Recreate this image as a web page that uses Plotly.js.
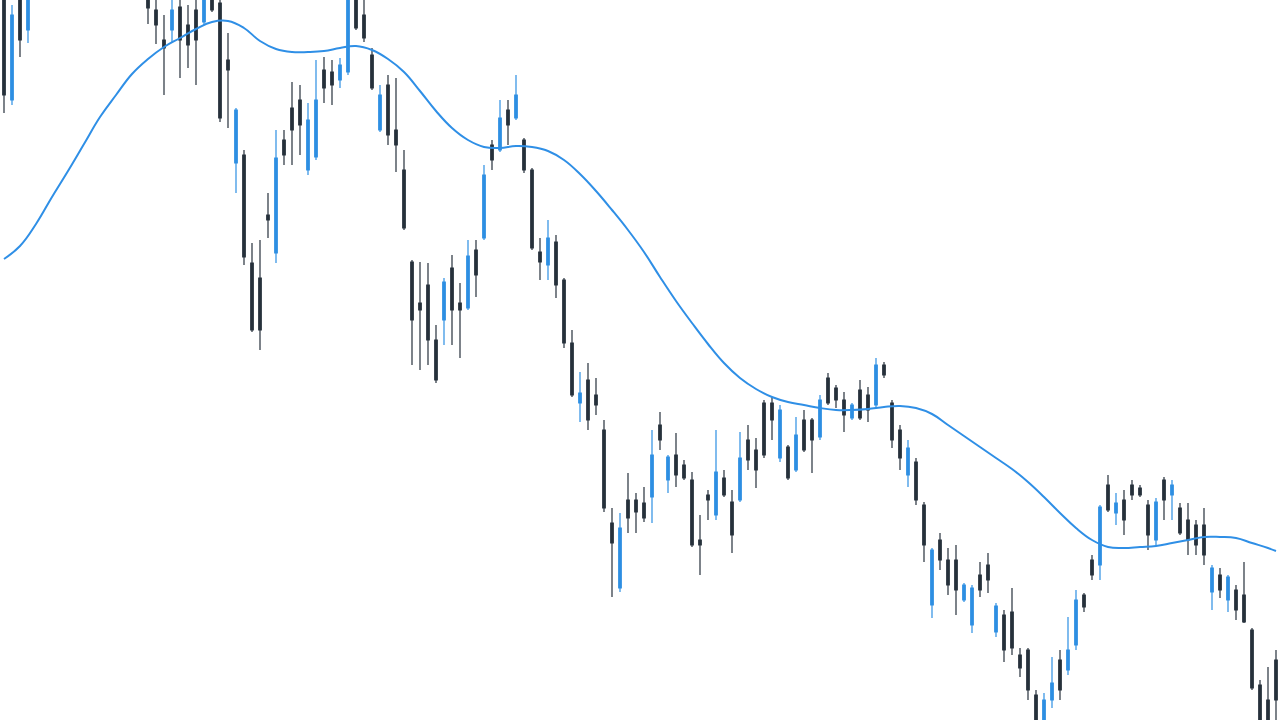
<!DOCTYPE html>
<html>
<head>
<meta charset="utf-8">
<script src="https://cdn.plot.ly/plotly-3.0.1.min.js"></script>
<style>html,body{margin:0;padding:0;background:#fff;}#chart{width:1280px;height:720px;}</style>
</head>
<body>
<div id="chart"></div>
<script>
// Session index (category positions)
const sessions = Array.from({length: 160}, (_, i) => i);

const openP = [176.0,162.0,173.0,169.0,173.5,175.2,176.8,175.6,177.3,178.9,177.0,176.1,178.5,179.8,178.0,176.4,175.1,174.3,
173.5,171.0,168.0,169.0,171.3,169.5,171.0,169.8,172.5,171.7,166.0,155.7,156.5,145.7,144.2,150.5,146.7,
158.0,161.2,162.0,155.0,156.3,165.0,164.8,164.0,164.8,173.0,170.5,166.5,159.0,163.5,159.0,
155.0,145.8,141.7,143.5,138.0,140.0,145.2,141.7,141.2,147.0,148.2,157.5,157.0,161.0,160.2,
158.0,155.0,146.8,145.5,147.8,144.0,137.7,131.7,134.0,132.5,129.0,119.7,113.2,122.0,122.0,
121.7,122.3,129.5,124.0,126.5,125.5,124.0,118.0,122.5,120.5,124.2,121.8,122.0,128.0,127.0,
131.7,131.7,126.2,127.3,125.0,130.0,130.0,128.3,134.2,133.2,132.0,130.2,133.0,132.5,131.5,
135.5,131.7,129.0,124.5,125.8,121.5,111.5,118.0,116.0,116.0,112.0,109.5,114.5,115.5,108.8,
110.5,110.8,106.5,107.0,102.5,99.0,102.0,106.0,105.0,107.5,112.5,116.0,115.5,123.5,120.7,
122.0,123.5,123.2,121.5,118.0,124.0,122.5,121.2,120.0,119.5,119.5,112.8,114.5,112.0,113.0,
112.5,109.0,103.5,102.0,106.0];

const highP = [178.0,171.5,174.0,175.0,176.0,177.4,178.2,177.9,179.6,180.1,178.4,179.0,180.6,181.2,179.3,177.8,176.9,175.5,
175.0,172.5,170.5,173.0,172.5,171.5,173.0,174.0,173.5,172.5,168.7,161.2,157.0,147.7,148.0,152.7,159.0,
159.0,163.8,163.5,161.7,166.0,166.3,166.0,166.2,174.0,174.5,172.5,167.2,163.5,164.5,164.2,
157.0,146.0,145.8,145.7,139.5,144.2,146.5,143.7,148.0,148.0,155.5,158.0,162.0,162.0,164.5,
158.2,155.2,148.2,150.0,148.5,144.2,139.0,134.8,135.7,134.2,130.0,121.2,120.7,124.7,122.7,
123.3,129.0,130.8,126.5,128.7,126.0,124.8,120.5,123.0,129.0,125.0,123.0,128.8,129.5,128.2,
132.0,132.3,131.5,127.5,130.3,131.0,130.2,132.5,134.7,133.5,132.8,131.7,134.0,133.3,136.2,
135.8,132.0,129.5,128.0,126.2,121.8,117.2,118.7,117.2,117.5,113.7,113.5,115.8,116.7,111.7,
111.0,113.2,107.2,107.2,103.0,102.7,106.3,107.0,110.3,113.0,112.7,116.5,121.5,124.5,122.7,
123.0,124.0,123.5,122.0,122.2,124.3,124.0,121.7,121.7,120.0,121.2,115.5,115.2,114.5,113.5,
115.8,109.2,104.0,105.3,107.0];

const lowP = [160.7,161.5,166.3,167.7,172.8,174.1,175.0,174.3,176.2,176.5,175.2,175.8,177.1,177.4,175.9,174.6,173.8,172.9,
169.6,167.6,162.5,167.7,164.2,165.2,163.5,169.5,170.8,159.8,159.2,152.7,145.5,138.8,137.0,148.2,145.7,
155.5,155.5,156.5,154.5,156.0,161.7,161.5,163.2,164.5,169.0,167.8,163.0,158.8,157.5,154.8,
149.0,135.5,135.0,135.5,133.7,137.5,137.5,136.2,141.0,142.3,148.0,155.0,156.8,157.5,160.0,
154.7,147.0,144.0,144.0,142.2,137.2,132.3,129.8,129.0,130.5,120.8,112.3,112.8,118.7,118.7,
119.8,119.7,127.0,122.7,123.3,124.0,117.3,114.5,120.0,120.0,122.3,116.7,121.8,125.0,123.2,
126.2,128.0,125.8,124.0,124.8,126.8,124.7,128.0,131.5,131.2,128.8,130.0,130.0,129.8,131.2,
134.2,127.2,125.0,123.3,121.5,115.8,110.2,115.0,112.5,110.5,111.8,108.7,112.3,112.7,108.3,
105.8,106.5,104.3,102.0,98.0,97.5,101.2,102.0,104.5,107.0,110.8,114.0,114.0,120.8,119.5,
118.5,122.0,122.3,117.0,117.5,120.0,120.0,118.5,116.5,116.5,115.5,111.0,112.2,110.8,110.0,
109.7,103.0,98.0,97.0,96.0];

const closeP = [162.5,170.5,168.0,173.5,175.2,176.8,175.6,177.3,178.9,177.0,176.1,178.5,179.8,178.0,176.4,175.1,174.3,173.7,
171.2,169.5,167.2,171.0,168.0,167.5,168.0,172.5,171.0,160.2,165.0,161.0,146.3,139.0,139.0,150.0,156.2,
156.5,159.0,159.5,160.0,162.0,163.2,163.5,165.5,172.5,169.2,168.2,163.2,162.5,158.5,157.5,
149.2,140.0,141.0,138.0,134.0,143.8,141.0,141.0,146.4,144.5,154.5,156.0,160.2,159.5,162.5,
155.0,147.2,145.8,148.2,143.5,137.7,132.5,132.7,130.0,131.5,121.2,117.7,119.2,120.2,120.8,
120.2,126.5,128.0,126.3,124.5,124.2,117.5,117.5,122.0,124.8,122.5,118.5,126.2,126.0,125.0,
126.5,130.0,131.0,124.2,128.5,127.0,128.0,132.0,131.7,132.0,130.5,131.5,130.2,131.0,135.5,
134.5,128.0,126.2,127.2,122.0,117.5,117.0,116.0,113.5,113.0,113.5,113.2,113.0,114.0,111.4,
107.0,107.2,105.2,103.0,100.0,102.0,103.7,103.0,107.0,112.0,111.3,114.5,121.3,121.0,121.7,
120.0,122.5,122.5,118.5,121.8,122.0,123.5,118.7,118.0,117.5,116.5,115.2,113.0,114.3,111.0,
109.8,103.2,98.5,98.0,102.0];

// Moving average line
const maX = [0,2,4,6,8,10,12,14,16,18,20,22,24,26,28,30,32,34,36,38,40,42,44,46,48,50,52,54,56,58,
60,62,64,66,68,70,72,74,76,78,80,82,84,86,88,90,92,94,96,98,100,102,104,106,108,110,112,114,116,118,
120,122,124,126,128,130,132,134,136,138,140,142,144,146,148,150,152,154,156,158,159];
const maY = [146.1,147.4,149.6,152.3,154.9,157.6,160.3,162.5,164.6,166.1,167.3,168.2,169.1,169.8,169.9,169.2,167.9,167.1,166.8,166.8,
166.9,167.2,167.4,167.0,166.1,164.8,162.9,160.9,159.2,158.0,157.3,157.2,157.4,157.3,156.9,156.0,154.6,152.9,151.0,149.0,
146.8,144.3,141.9,139.7,137.6,135.7,134.2,133.1,132.3,131.8,131.5,131.2,131.0,131.0,131.1,131.3,131.4,131.2,130.6,129.5,
128.4,127.3,126.2,125.1,123.8,122.3,120.7,119.2,118.0,117.3,117.2,117.3,117.4,117.7,118.0,118.3,118.3,118.2,117.7,117.2,116.9];

const upColor = '#2e8fe3';
const downColor = '#27313c';
const maColor = '#2f8fe6';

const traces = [
  {
    type: 'candlestick',
    x: sessions, open: openP, high: highP, low: lowP, close: closeP,
    increasing: {line: {color: upColor, width: 1.2}, fillcolor: upColor},
    decreasing: {line: {color: downColor, width: 1.2}, fillcolor: downColor},
    whiskerwidth: 0,
    hoverinfo: 'skip'
  },
  {
    type: 'scatter', mode: 'lines',
    x: maX, y: maY,
    line: {color: maColor, width: 2, shape: 'spline', smoothing: 1.2},
    hoverinfo: 'skip'
  }
];

const layout = {
  width: 1280, height: 720,
  margin: {l: 0, r: 0, t: 0, b: 0, pad: 0},
  paper_bgcolor: '#ffffff', plot_bgcolor: '#ffffff',
  showlegend: false,
  boxgap: 0.55,
  xaxis: {range: [-0.5, 159.5], visible: false, showgrid: false, zeroline: false, rangeslider: {visible: false}, fixedrange: true},
  yaxis: {range: [100, 172], visible: false, showgrid: false, zeroline: false, fixedrange: true}
};

Plotly.newPlot('chart', traces, layout, {staticPlot: true, displayModeBar: false});
</script>
</body>
</html>
